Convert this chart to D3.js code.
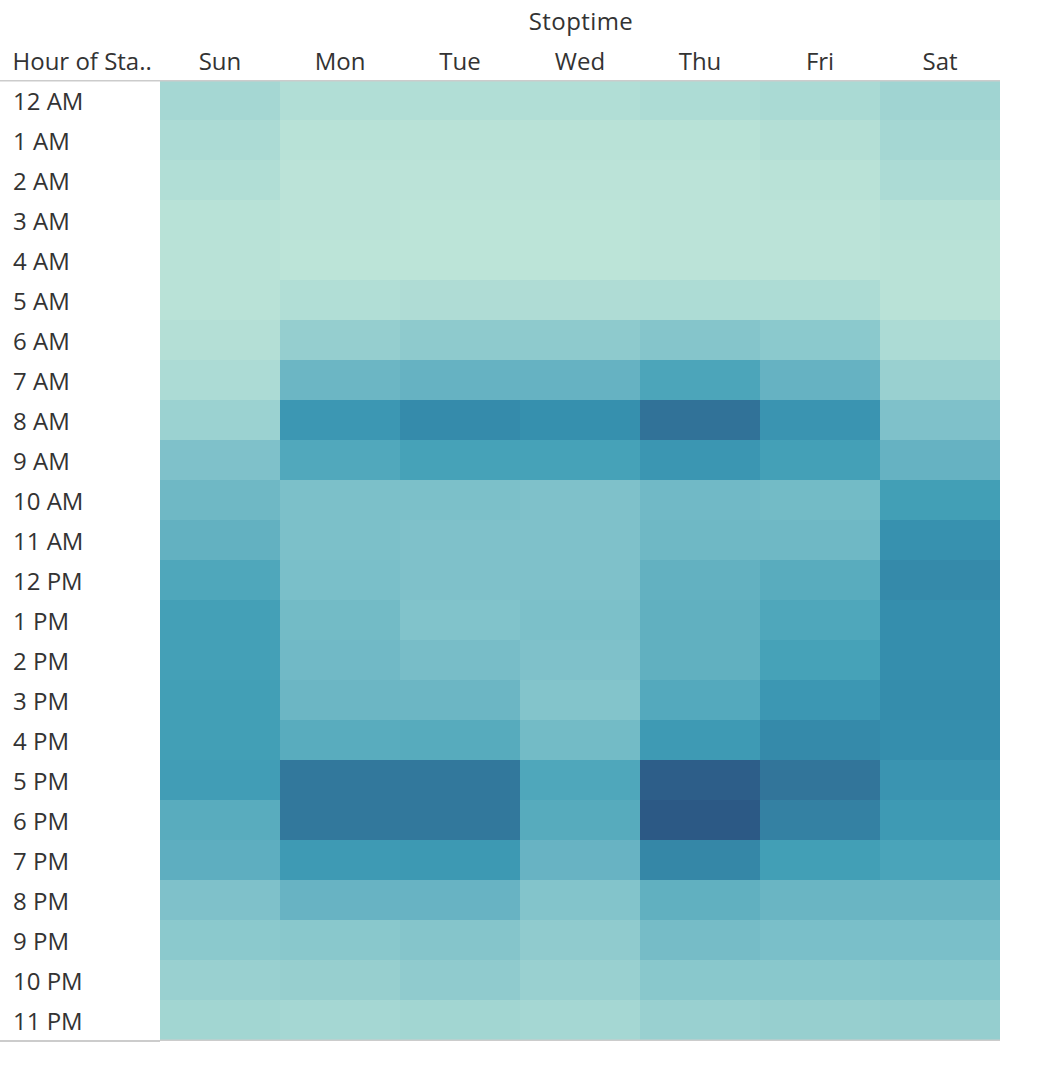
<!DOCTYPE html>
<html>
<head>
<meta charset="utf-8">
<script src="https://cdn.jsdelivr.net/npm/d3@7"></script>
<style>
  html, body { margin: 0; padding: 0; background: #fff; }
  svg { display: block; }
  text { font-family: "Open Sans", "Noto Sans", sans-serif; font-size: 24px; fill: #333; }
  .domain { display: none; }
</style>
</head>
<body>
<div id="app"></div>
<script>
const days = ['Sun', 'Mon', 'Tue', 'Wed', 'Thu', 'Fri', 'Sat'];
const hours = ['12 AM', '1 AM', '2 AM', '3 AM', '4 AM', '5 AM', '6 AM', '7 AM', '8 AM', '9 AM', '10 AM', '11 AM',
  '12 PM', '1 PM', '2 PM', '3 PM', '4 PM', '5 PM', '6 PM', '7 PM', '8 PM', '9 PM', '10 PM', '11 PM'];

const sun = [9, 6, 4, 1.5, 1, 1, 3, 6, 13, 26, 33, 38, 46, 51, 51, 52, 52, 53, 42, 40, 26, 20, 14, 10];
const mon = [4, 1.5, 0.5, 0.5, 0, 4, 16, 34, 57, 45, 27, 27, 28, 31, 32, 34, 42, 78, 78, 55, 36, 21, 15, 9];
const tue = [4, 1, 0.5, 0, 0, 5, 19, 37, 65, 50, 27, 26, 26, 25, 29, 34, 43, 78, 78, 56, 36, 23, 18, 10];
const wed = [4, 1, 0.5, 0, 0, 5, 19, 37, 62, 50, 26, 26, 26, 27, 26, 24, 31, 46, 43, 36, 24, 18, 14, 9];
const thu = [5.5, 1.5, 0.5, 0.5, 0.5, 5.5, 23, 47, 82, 58, 32, 33, 38, 39, 39, 44, 55, 96, 100, 68, 39, 30, 21, 14];
const fri = [7, 3, 1, 0.5, 0.5, 5.5, 20, 37, 59, 51, 31, 33, 42, 46, 50, 57, 66, 80, 72, 52, 35, 28, 21, 15];
const sat = [11, 9, 6, 2, 1, 1, 6, 14, 26, 37, 52, 61, 66, 63, 63, 64, 63, 59, 55, 48, 35, 28, 22, 16];
const series = [sun, mon, tue, wed, thu, fri, sat];

const ramp = ['#bce4d8', '#aedcd5', '#a1d5d2', '#95cecf', '#89c8cc', '#7ec1ca', '#72bac6', '#66b2c2', '#59acbe', '#4ba5ba',
  '#419eb6', '#3b96b2', '#358ead', '#3586a7', '#347ea1', '#32779b', '#316f96', '#2f6790', '#2d608a', '#2c5985'];

let W = 1040; let H = 1086;
let margin = { top: 80, left: 160, right: 40, bottom: 46 };

let svg = d3.select('#app').append('svg')
  .attr('width', W)
  .attr('height', H);

let xScale = d3.scaleBand()
  .domain(days)
  .range([margin.left, W - margin.right]);

let yScale = d3.scaleBand()
  .domain(hours)
  .range([margin.top, H - margin.bottom]);

// smooth version of the stepped palette
let colorFn = d3.scaleLinear()
  .domain(ramp.map((d, i) => i * 100 / (ramp.length - 1)))
  .range(ramp);

series.forEach((vals, j) => {
  svg.selectAll('rect.d' + j)
    .data(vals)
    .enter().append('rect')
    .attr('class', 'd' + j)
    .attr('x', xScale(days[j]))
    .attr('y', (d, i) => yScale(hours[i]))
    .attr('width', xScale.bandwidth())
    .attr('height', yScale.bandwidth())
    .attr('fill', d => colorFn(d));
});

let xAxis = d3.axisTop(xScale).tickSize(0).tickPadding(10);
svg.append('g')
  .attr('transform', 'translate(0,' + margin.top + ')')
  .call(xAxis);

let yAxis = d3.axisLeft(yScale).tickSize(0);
let yg = svg.append('g')
  .attr('transform', 'translate(' + margin.left + ',2)')
  .call(yAxis);
yg.selectAll('text')
  .attr('text-anchor', 'start')
  .attr('x', 13 - margin.left);

svg.selectAll('g').attr('font-family', null).attr('font-size', null);

svg.append('text')
  .attr('x', 12.5)
  .attr('y', margin.top - 10)
  .text('Hour of Sta..');

svg.append('text')
  .attr('x', (margin.left + W - margin.right) / 2 + 1)
  .attr('y', 30)
  .attr('text-anchor', 'middle')
  .style('letter-spacing', '0.4px')
  .text('Stoptime');

// header and bottom rules
svg.append('line')
  .attr('x1', 0).attr('x2', W - margin.right)
  .attr('y1', margin.top + 0.75).attr('y2', margin.top + 0.75)
  .attr('stroke', '#ccc').attr('stroke-width', 1.5);
svg.append('line')
  .attr('x1', margin.left).attr('x2', W - margin.right)
  .attr('y1', H - margin.bottom + 0.25).attr('y2', H - margin.bottom + 0.25)
  .attr('stroke', '#ccc').attr('stroke-width', 1.5);
svg.append('line')
  .attr('x1', 0).attr('x2', margin.left)
  .attr('y1', H - margin.bottom + 1).attr('y2', H - margin.bottom + 1)
  .attr('stroke', '#ccc').attr('stroke-width', 2);
</script>
</body>
</html>
